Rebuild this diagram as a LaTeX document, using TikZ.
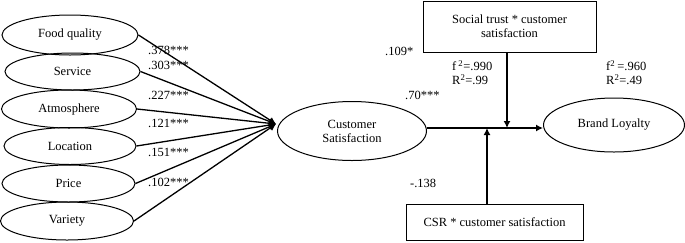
\documentclass[tikz,border=0pt]{standalone}
\usepackage{fontspec}
\setmainfont{Liberation Serif}
\usetikzlibrary{arrows.meta,positioning,shapes.geometric}
\tikzset{
	lat/.style={draw, ellipse, line width=1pt, inner sep=0pt, minimum width=135pt,
		minimum height=38pt, align=center, font=\fontsize{12.5}{14}\selectfont},
	modbox/.style={draw, rectangle, line width=1pt, inner sep=2pt, align=center,
		font=\fontsize{12.5}{14}\selectfont},
	coef/.style={font=\fontsize{12.5}{14}\selectfont, inner sep=0pt, anchor=west},
	path/.style={line width=1.3pt, ->},
}

\begin{document}
\begin{tikzpicture}[x=1pt, y=-1pt, >={Latex[length=7pt,width=7pt]}]
				\useasboundingbox (0,0) rectangle (685,242);
				\node[lat, minimum width=136pt, minimum height=40pt] at (70,35) (food) {Food quality};
				\node[lat, minimum height=37pt] at (72.5,71.5) (serv) {Service};
				\node[lat] at (69,109) (atmo) {Atmosphere};
				\node[lat, minimum width=132pt, minimum height=37pt] at (70,146) (loc) {Location};
				\node[lat, minimum width=133pt, minimum height=37pt] at (68.5,183.5) (price) {Price};
				\node[lat, minimum width=133pt] at (67,221) (var) {Variety};
				\node[lat, minimum width=149pt, minimum height=59pt] at (352,131) (cs) {Customer\\Satisfaction};
				\node[lat, minimum width=141pt, minimum height=54pt] at (614,125) (bl) {Brand Loyalty};
				\node[modbox, minimum width=173pt, minimum height=51pt] at (509.5,26.5) (st) {Social trust * customer\\satisfaction};
				\node[modbox, minimum width=177pt, minimum height=36pt] at (494.5,222) (csr) {CSR * customer satisfaction};
				\coordinate (hub) at (276,124);
				\coordinate (mt) at (507,128);
				\coordinate (mc) at (487,128);
				% predictors -> customer satisfaction
				\draw[path] (food.east) -- (hub);
				\draw[path] (serv.east) -- (hub);
				\draw[path] (atmo.east) -- (hub);
				\draw[path] (loc.east) -- (hub);
				\draw[path] (price.east) -- (hub);
				\draw[path] (var.east) -- (hub);
				% moderation
				\draw[path] (cs.east |- mt) -- (bl.west |- mt);
				\draw[path] (mt |- st.south) -- (mt);
				\draw[path] (mc |- csr.north) -- (mc);
				\node[coef] at (148,50) (c1) {.378***};
				\node[coef] at (148,65) (c2) {.303***};
				\node[coef] at (148,95) (c3) {.227***};
				\node[coef] at (148,123) (c4) {.121***};
				\node[coef] at (148,152) (c5) {.151***};
				\node[coef] at (148,182) (c6) {.102***};
				\node[coef] at (385,51) (c7) {.109*};
				\node[coef] at (405,95) (c8) {.70***};
				\node[coef] at (410,183) (c9) {-.138};
				\node[coef, align=left] at (452,72.5) (fst) {f\,\textsuperscript{2}=.990\\R\textsuperscript{2}=.99};
				\node[coef, align=left] at (606,72.5) (fbl) {f\textsuperscript{2}\,=.960\\R\textsuperscript{2}=.49};
			\end{tikzpicture}
\end{document}
